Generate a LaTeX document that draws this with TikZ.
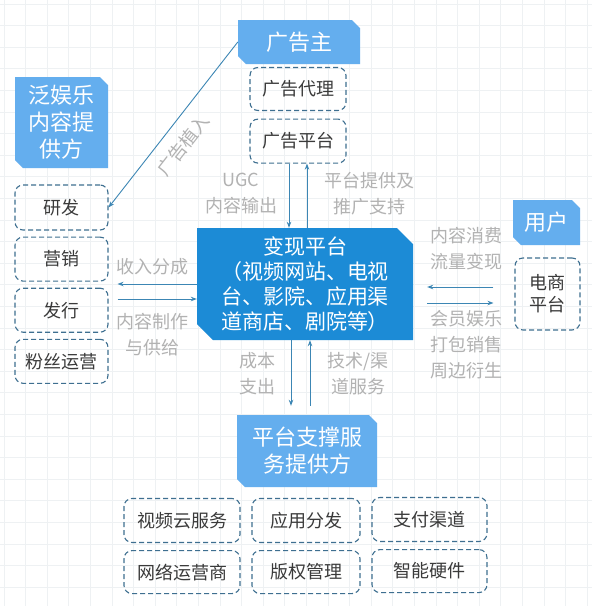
\documentclass[tikz,border=0pt]{standalone}
\usepackage{fontspec}
\setmainfont{Noto Sans CJK SC}
\usetikzlibrary{positioning,arrows.meta}

\definecolor{hdrblue}{HTML}{64AEEE}
\definecolor{visblue}{HTML}{1C8BD6}
\definecolor{boxline}{HTML}{3E6F90}
\definecolor{boxtext}{HTML}{3A3A3A}
\definecolor{lblgray}{HTML}{B2B2B2}
\definecolor{arrowblue}{HTML}{3C86B4}
\definecolor{gridgray}{HTML}{EEF1F3}

\tikzset{cutsize/.store in=\cutsize, cutsize=8pt}

\begin{document}
\begin{tikzpicture}[x=1pt,y=-1pt,
  every node/.style={align=center, inner sep=0pt},
  box/.style={draw=boxline, dash pattern=on 5pt off 3pt, line width=1.1pt,
    rounded corners=8pt, text=boxtext, font=\fontsize{18}{22}\selectfont,
    minimum width=93pt, minimum height=44pt},
  cutfill/.style={path picture={
    \fill[#1] (path picture bounding box.north west)
      -- ([xshift=-\cutsize]path picture bounding box.north east)
      -- ([yshift=-\cutsize]path picture bounding box.north east)
      -- (path picture bounding box.south east)
      -- ([xshift=\cutsize]path picture bounding box.south west)
      -- ([yshift=\cutsize]path picture bounding box.south west) -- cycle;}},
  hdr/.style={cutfill=hdrblue, text=white, font=\fontsize{22}{27}\selectfont},
  lbl/.style={text=lblgray, font=\fontsize{18}{26}\selectfont},
  arr/.style={draw=arrowblue, line width=0.9pt, -{Stealth[length=6pt,width=4.5pt]}},
  gridline/.style={draw=gridgray, line width=0.8pt}]

  \useasboundingbox[fill=white] (0,0) rectangle (592,606);
  \foreach \i in {0,...,27} \draw[gridline] (\i*21.6+4,0) -- (\i*21.6+4,606);
  \foreach \i in {0,...,28} \draw[gridline] (0,\i*21.6+4) -- (592,\i*21.6+4);

  % advertisers
  \node[hdr, minimum width=122pt, minimum height=44pt] (adv) at (299,42) {广告主};
  \node[box, minimum width=96pt, minimum height=43pt] (agent) at (298,89) {广告代理};
  \node[box, minimum width=96pt, below=7.5pt of agent] (adplat) {广告平台};

  % content providers
  \node[hdr, minimum width=93pt, minimum height=91pt] (pan) at (61.5,122.5) {泛娱乐\\内容提\\供方};
  \node[box, minimum height=45pt] (rd) at (61.5,207.5) {研发};
  \node[box, below=6pt of rd] (mkt) {营销};
  \node[box, below=6pt of mkt] (pub) {发行};
  \node[box, below=6pt of pub] (fans) {粉丝运营};

  % platform
  \node[hdr, cutsize=16pt, cutfill=visblue, minimum width=216pt, minimum height=112pt,
    font=\fontsize{21}{25}\selectfont] (vis) at (305,284)
    {变现平台\\（视频网站、电视\\台、影院、应用渠\\道商店、剧院等）};

  % users
  \node[hdr, minimum width=67pt, minimum height=45pt] (user) at (546.5,222.5) {用户};
  \node[box, minimum width=65pt, minimum height=72pt] (ec) at (547.5,294) {电商\\平台};

  % support services
  \node[hdr, minimum width=140pt, minimum height=72pt] (sup) at (307,451) {平台支撑服\\务提供方};
  \node[box, minimum width=116pt] (vcloud) at (182,520.5) {视频云服务};
  \node[box, minimum width=108pt] (appdist) at (306,520.5) {应用分发};
  \node[box, minimum width=115pt] (pay) at (429.5,519.5) {支付渠道};
  \node[box, minimum width=116pt, minimum height=43pt, below=7pt of vcloud] (isp) {网络运营商};
  \node[box, minimum width=108pt, minimum height=43pt, below=7pt of appdist] (rights) {版权管理};
  \node[box, minimum width=115pt, minimum height=43pt, below=7pt of pay] (hw) {智能硬件};

  % flows
  \draw[arr] (adv.west) -- (rd.east);
  \node[lbl, rotate=52] (implant) at (183,145) {广告植入};

  \draw[arr] ([xshift=-9pt]adplat.south) -- ([xshift=-9pt]adplat.south |- vis.north);
  \draw[arr] ([xshift=9pt]adplat.south |- vis.north) -- ([xshift=9pt]adplat.south);
  \node[lbl] (ugc) at (241,194) {UGC\\内容输出};
  \node[lbl] (promo) at (369,194) {平台提供及\\推广支持};

  \draw[arr, shorten >=9pt] (vis.west) -- (vis.west -| mkt.east);
  \draw[arr, shorten <=9pt] ([yshift=-15pt]vis.west -| pub.east) -- ([yshift=-15pt]vis.west);
  \node[lbl] (share) at (152,267) {收入分成};
  \node[lbl] (make) at (152,335) {内容制作\\与供给};

  \draw[arr, shorten <=21pt, shorten >=14pt] ([yshift=-3pt]vis.east -| ec.west) -- ([yshift=-3pt]vis.east);
  \draw[arr, shorten <=14pt, shorten >=21pt] ([yshift=-19pt]vis.east) -- ([yshift=-19pt]vis.east -| ec.west);
  \node[lbl] (consume) at (466,249) {内容消费\\流量变现};
  \node[lbl] (member) at (466,345) {会员娱乐\\打包销售\\周边衍生};

  \draw[arr, shorten >=9pt] ([xshift=-14pt]vis.south) -- ([xshift=-14pt]vis.south |- sup.north);
  \draw[arr, shorten <=9pt] ([xshift=5pt]vis.south |- sup.north) -- ([xshift=5pt]vis.south);
  \node[lbl] (cost) at (257,374) {成本\\支出};
  \node[lbl] (tech) at (358,374) {技术/渠\\道服务};
\end{tikzpicture}
\end{document}
